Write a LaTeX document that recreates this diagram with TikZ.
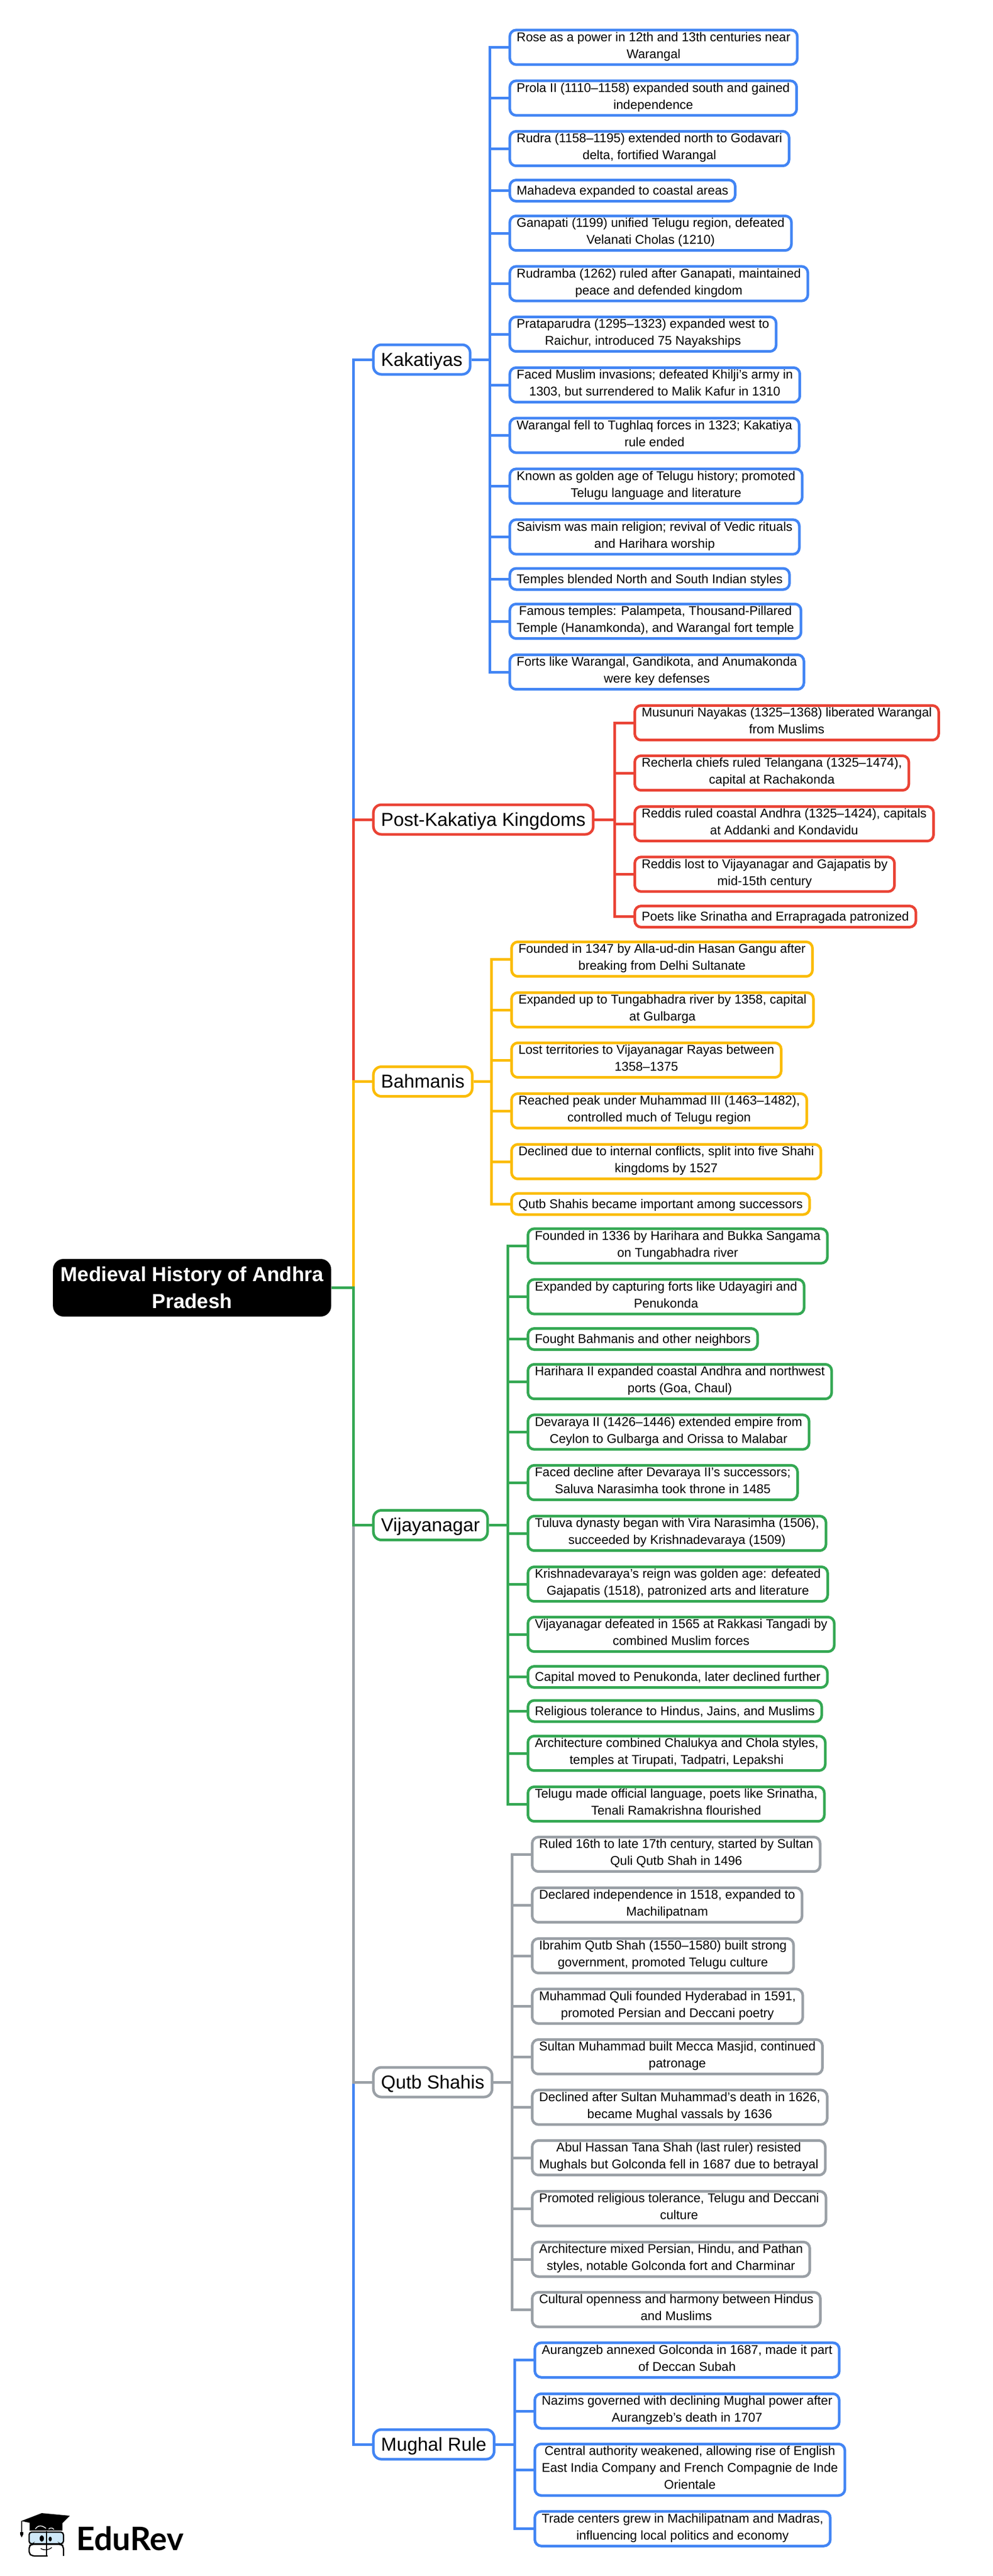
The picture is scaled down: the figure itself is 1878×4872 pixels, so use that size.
\documentclass[tikz,border=0pt]{standalone}
\usepackage{fontspec}
\setmainfont{Liberation Sans}
\newfontfamily\logofont{Lato}
\definecolor{gblue}{HTML}{4285F4}
\definecolor{gred}{HTML}{EA4335}
\definecolor{gamber}{HTML}{FBBC04}
\definecolor{ggreen}{HTML}{34A853}
\definecolor{ggray}{HTML}{9AA0A6}
\definecolor{lensblue}{HTML}{CFE8F8}
\newcommand{\linestrut}{\rule[-8pt]{0pt}{32pt}}
\tikzset{
    leaf/.style={draw=#1, fill=white, line width=5pt, rounded corners=12pt, anchor=west, align=center,
        inner xsep=13pt, inner ysep=4pt, font=\fontsize{24}{32}\selectfont,
        execute at begin node=\linestrut, execute at end node=\linestrut},
    topic/.style={draw=#1, fill=white, line width=5pt, rounded corners=15pt, anchor=west,
        inner xsep=14.5pt, minimum height=56pt, text height=26pt, text depth=2pt,
        font=\fontsize{35.5}{46}\selectfont},
    rootbox/.style={fill=black, text=white, rounded corners=20pt, align=center, anchor=west,
        inner xsep=14.5pt, minimum height=109pt, font=\fontsize{38.4}{51}\selectfont\bfseries},
    branch/.style={draw=#1, line width=5pt},
}
\begin{document}
\begin{tikzpicture}[x=1pt, y=-1pt]
    \useasboundingbox (0,0) rectangle (1878,4872);

    \node[rootbox] (root) at (100, 2435.5) {Medieval History of Andhra\\Pradesh};
    \coordinate (trunk) at (668.3, 2435.5);

    % first level
    \node[topic=gblue] (kak) at (703.7, 680) {Kakatiyas};
    \node[topic=gred] (post) at (703.7, 1550) {Post-Kakatiya Kingdoms};
    \node[topic=gamber] (bah) at (703.7, 2045.5) {Bahmanis};
    \node[topic=ggreen] (vij) at (703.7, 2884.5) {Vijayanagar};
    \node[topic=ggray] (qut) at (703.7, 3938) {Qutb Shahis};
    \node[topic=gblue] (mug) at (703.7, 4623) {Mughal Rule};

    \coordinate (kbus) at (926.5, 680);
    \coordinate (pbus) at (1162.8, 1550);
    \coordinate (bbus) at (929.8, 2045.5);
    \coordinate (vbus) at (960.8, 2884.5);
    \coordinate (qbus) at (968.8, 3938);
    \coordinate (mbus) at (973.8, 4623);

    % Kakatiyas
    \node[leaf=gblue] (k1) at (961.7, 89.5) {Rose as a power in 12th and 13th centuries near\\Warangal};
    \node[leaf=gblue] (k2) at (961.7, 185.5) {Prola II (1110--1158) expanded south and gained\\independence};
    \node[leaf=gblue] (k3) at (961.7, 281) {Rudra (1158--1195) extended north to Godavari\\delta, fortified Warangal};
    \node[leaf=gblue] (k4) at (961.7, 360.5) {Mahadeva expanded to coastal areas};
    \node[leaf=gblue] (k5) at (961.7, 441) {Ganapati (1199) unified Telugu region, defeated\\Velanati Cholas (1210)};
    \node[leaf=gblue] (k6) at (961.7, 536.5) {Rudramba (1262) ruled after Ganapati, maintained\\peace and defended kingdom};
    \node[leaf=gblue] (k7) at (961.7, 632) {Prataparudra (1295--1323) expanded west to\\Raichur, introduced 75 Nayakships};
    \node[leaf=gblue] (k8) at (961.7, 728) {Faced Muslim invasions; defeated Khilji's army in\\1303, but surrendered to Malik Kafur in 1310};
    \node[leaf=gblue] (k9) at (961.7, 823.5) {Warangal fell to Tughlaq forces in 1323; Kakatiya\\rule ended};
    \node[leaf=gblue] (k10) at (961.7, 919.5) {Known as golden age of Telugu history; promoted\\Telugu language and literature};
    \node[leaf=gblue] (k11) at (961.7, 1015.5) {Saivism was main religion; revival of Vedic rituals\\and Harihara worship};
    \node[leaf=gblue] (k12) at (961.7, 1095) {Temples blended North and South Indian styles};
    \node[leaf=gblue] (k13) at (961.7, 1175) {Famous temples: Palampeta, Thousand-Pillared\\Temple (Hanamkonda), and Warangal fort temple};
    \node[leaf=gblue] (k14) at (961.7, 1271) {Forts like Warangal, Gandikota, and Anumakonda\\were key defenses};

    % Post-Kakatiya Kingdoms
    \node[leaf=gred] (p1) at (1198, 1367) {Musunuri Nayakas (1325--1368) liberated Warangal\\from Muslims};
    \node[leaf=gred] (p2) at (1198, 1462) {Recherla chiefs ruled Telangana (1325--1474),\\capital at Rachakonda};
    \node[leaf=gred] (p3) at (1198, 1558) {Reddis ruled coastal Andhra (1325--1424), capitals\\at Addanki and Kondavidu};
    \node[leaf=gred] (p4) at (1198, 1653.5) {Reddis lost to Vijayanagar and Gajapatis by\\mid-15th century};
    \node[leaf=gred] (p5) at (1198, 1733.5) {Poets like Srinatha and Errapragada patronized};

    % Bahmanis
    \node[leaf=gamber] (b1) at (965, 1814) {Founded in 1347 by Alla-ud-din Hasan Gangu after\\breaking from Delhi Sultanate};
    \node[leaf=gamber] (b2) at (965, 1910) {Expanded up to Tungabhadra river by 1358, capital\\at Gulbarga};
    \node[leaf=gamber] (b3) at (965, 2005) {Lost territories to Vijayanagar Rayas between\\1358--1375};
    \node[leaf=gamber] (b4) at (965, 2101) {Reached peak under Muhammad III (1463--1482),\\controlled much of Telugu region};
    \node[leaf=gamber] (b5) at (965, 2197) {Declined due to internal conflicts, split into five Shahi\\kingdoms by 1527};
    \node[leaf=gamber] (b6) at (965, 2277) {Qutb Shahis became important among successors};

    % Vijayanagar
    \node[leaf=ggreen] (v1) at (996, 2356.5) {Founded in 1336 by Harihara and Bukka Sangama\\on Tungabhadra river};
    \node[leaf=ggreen] (v2) at (996, 2452.5) {Expanded by capturing forts like Udayagiri and\\Penukonda};
    \node[leaf=ggreen] (v3) at (996, 2532.5) {Fought Bahmanis and other neighbors};
    \node[leaf=ggreen] (v4) at (996, 2613) {Harihara II expanded coastal Andhra and northwest\\ports (Goa, Chaul)};
    \node[leaf=ggreen] (v5) at (996, 2708.5) {Devaraya II (1426--1446) extended empire from\\Ceylon to Gulbarga and Orissa to Malabar};
    \node[leaf=ggreen] (v6) at (996, 2804) {Faced decline after Devaraya II's successors;\\Saluva Narasimha took throne in 1485};
    \node[leaf=ggreen] (v7) at (996, 2900) {Tuluva dynasty began with Vira Narasimha (1506),\\succeeded by Krishnadevaraya (1509)};
    \node[leaf=ggreen] (v8) at (996, 2996) {Krishnadevaraya's reign was golden age: defeated\\Gajapatis (1518), patronized arts and literature};
    \node[leaf=ggreen] (v9) at (996, 3091) {Vijayanagar defeated in 1565 at Rakkasi Tangadi by\\combined Muslim forces};
    \node[leaf=ggreen] (v10) at (996, 3171.5) {Capital moved to Penukonda, later declined further};
    \node[leaf=ggreen] (v11) at (996, 3236) {Religious tolerance to Hindus, Jains, and Muslims};
    \node[leaf=ggreen] (v12) at (996, 3316) {Architecture combined Chalukya and Chola styles,\\temples at Tirupati, Tadpatri, Lepakshi};
    \node[leaf=ggreen] (v13) at (996, 3412) {Telugu made official language, poets like Srinatha,\\Tenali Ramakrishna flourished};

    % Qutb Shahis
    \node[leaf=ggray] (q1) at (1004, 3507) {Ruled 16th to late 17th century, started by Sultan\\Quli Qutb Shah in 1496};
    \node[leaf=ggray] (q2) at (1004, 3603) {Declared independence in 1518, expanded to\\Machilipatnam};
    \node[leaf=ggray] (q3) at (1004, 3699) {Ibrahim Qutb Shah (1550--1580) built strong\\government, promoted Telugu culture};
    \node[leaf=ggray] (q4) at (1004, 3794.5) {Muhammad Quli founded Hyderabad in 1591,\\promoted Persian and Deccani poetry};
    \node[leaf=ggray] (q5) at (1004, 3890) {Sultan Muhammad built Mecca Masjid, continued\\patronage};
    \node[leaf=ggray] (q6) at (1004, 3985.5) {Declined after Sultan Muhammad's death in 1626,\\became Mughal vassals by 1636};
    \node[leaf=ggray] (q7) at (1004, 4081) {Abul Hassan Tana Shah (last ruler) resisted\\Mughals but Golconda fell in 1687 due to betrayal};
    \node[leaf=ggray] (q8) at (1004, 4177) {Promoted religious tolerance, Telugu and Deccani\\culture};
    \node[leaf=ggray] (q9) at (1004, 4273) {Architecture mixed Persian, Hindu, and Pathan\\styles, notable Golconda fort and Charminar};
    \node[leaf=ggray] (q10) at (1004, 4368) {Cultural openness and harmony between Hindus\\and Muslims};

    % Mughal Rule
    \node[leaf=gblue] (m1) at (1009, 4463.5) {Aurangzeb annexed Golconda in 1687, made it part\\of Deccan Subah};
    \node[leaf=gblue] (m2) at (1009, 4560) {Nazims governed with declining Mughal power after\\Aurangzeb's death in 1707};
    \node[leaf=gblue] (m3) at (1009, 4671) {Central authority weakened, allowing rise of English\\East India Company and French Compagnie de Inde\\Orientale};
    \node[leaf=gblue] (m4) at (1009, 4782.5) {Trade centers grew in Machilipatnam and Madras,\\influencing local politics and economy};

    % connectors
    \foreach \n/\c in {kak/gblue, post/gred, bah/gamber, mug/gblue, qut/ggray, vij/ggreen}
        \draw[branch=\c] (root.east) -- (trunk) |- (\n.west);

    \foreach \i in {1,...,14}
        \draw[branch=gblue] (kak.east) -- (kbus) |- (k\i.west);
    \foreach \i in {1,...,5}
        \draw[branch=gred] (post.east) -- (pbus) |- (p\i.west);
    \foreach \i in {1,...,6}
        \draw[branch=gamber] (bah.east) -- (bbus) |- (b\i.west);
    \foreach \i in {1,...,13}
        \draw[branch=ggreen] (vij.east) -- (vbus) |- (v\i.west);
    \foreach \i in {1,...,10}
        \draw[branch=ggray] (qut.east) -- (qbus) |- (q\i.west);
    \foreach \i in {1,...,4}
        \draw[branch=gblue] (mug.east) -- (mbus) |- (m\i.west);

    % logo
    \node[anchor=base west, inner sep=0pt, font=\fontsize{61}{61}\selectfont\logofont\bfseries] (edurev) at (144, 4823) {EduRev};
    \fill (56, 4770) -- (56, 4786) -- (118, 4786) -- (118, 4772) -- cycle;
    \fill (40, 4768) -- (79, 4753) -- (132, 4758) -- (108, 4782) -- cycle;
    \draw[white, line width=1.5pt] (67, 4783) .. controls (72, 4775) and (80, 4776) .. (87, 4782);
    \draw[white, line width=1.5pt] (92, 4783) .. controls (96, 4780) and (100, 4781) .. (102, 4784);
    \draw[line width=1.5pt] (41, 4768) -- (41, 4790);
    \fill (38, 4789) -- (44, 4789) -- (44, 4793) -- (41, 4799) -- (38, 4793) -- cycle;
    \draw[line width=2.5pt, fill=lensblue, rounded corners=5pt] (55, 4789) rectangle (120, 4811);
    \draw[line width=2.5pt, rounded corners=5pt] (90, 4834) -- (60, 4834) -- (55, 4829) -- (55, 4815) -- (60, 4812) -- (115, 4812) -- (120, 4815) -- (120, 4834);
    \draw[line width=2.5pt] (88, 4787) -- (88, 4835);
    \fill (79, 4801) ellipse (4 and 6);
    \fill (95, 4802) ellipse (3 and 4.5);
    \draw[line width=1.5pt] (77, 4820) .. controls (84, 4824) and (92, 4823) .. (98, 4818);
\end{tikzpicture}
\end{document}
